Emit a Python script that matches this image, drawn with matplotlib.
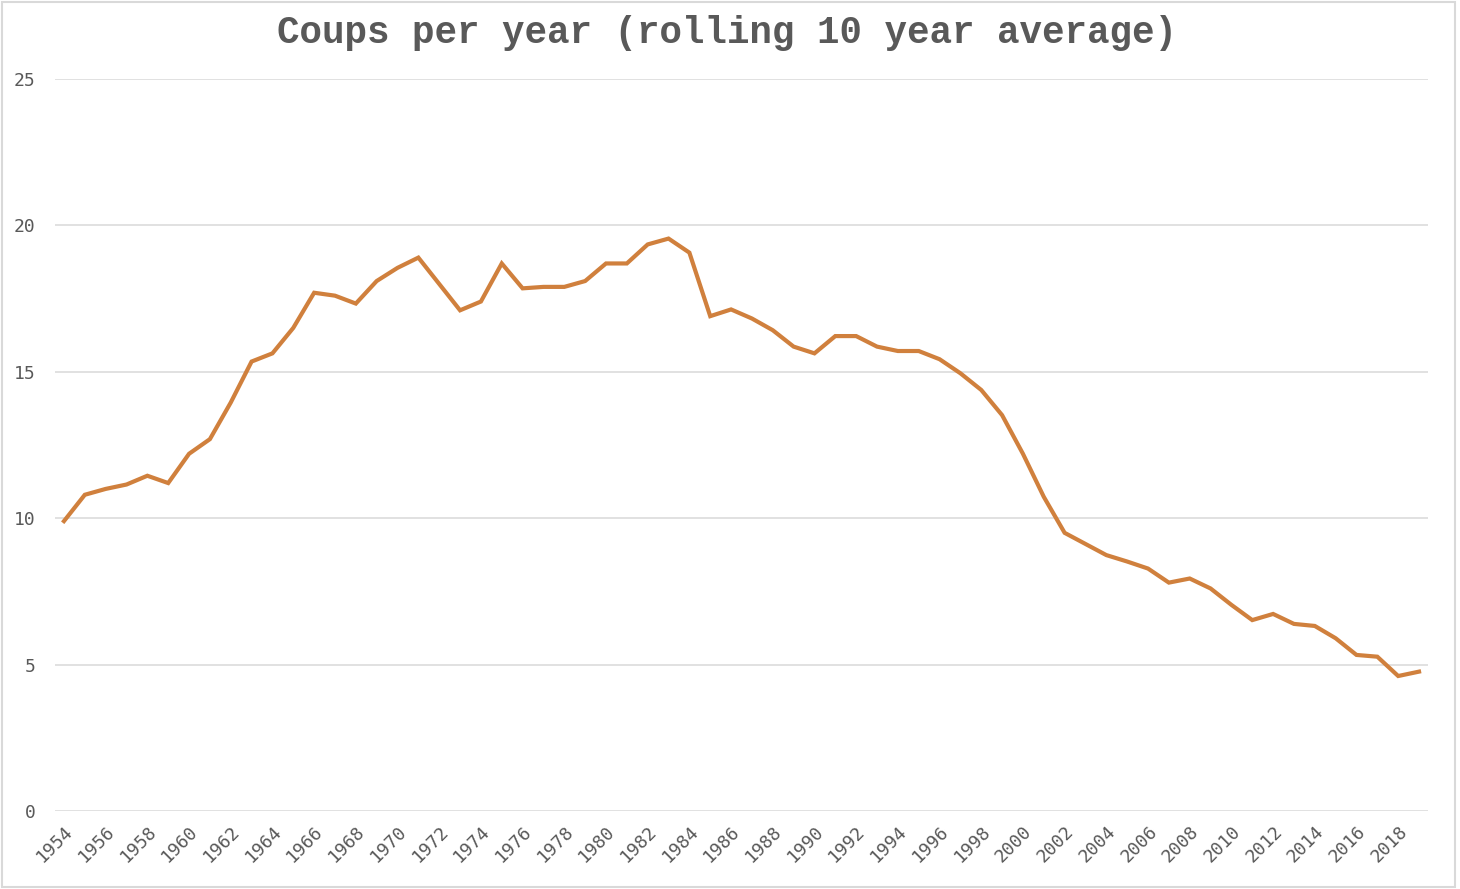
import numpy as np
import matplotlib.pyplot as plt
from matplotlib.patches import Rectangle

# rolling 10 year average of coups
years = list(range(1954, 2020))
coups = [9.9, 10.8, 11.0, 11.15, 11.45, 11.2, 12.2, 12.7, 13.95, 15.35,
         15.63, 16.5, 17.7, 17.6, 17.33, 18.1, 18.55, 18.9, 18.0, 17.1,
         17.4, 18.7, 17.85, 17.9, 17.9, 18.1, 18.7, 18.7, 19.35, 19.55,
         19.07, 16.9, 17.13, 16.82, 16.42, 15.86, 15.63, 16.22, 16.22, 15.86,
         15.71, 15.71, 15.43, 14.95, 14.38, 13.52, 12.2, 10.73, 9.5, 9.12,
         8.74, 8.52, 8.28, 7.8, 7.94, 7.6, 7.04, 6.52, 6.73, 6.39,
         6.32, 5.9, 5.33, 5.27, 4.61, 4.76]
xticks = list(range(1954, 2020, 2))
yticks = [0, 5, 10, 15, 20, 25]
title = "Coups per year (rolling 10 year average)"

txt_color = '#595959'
mono = ['DejaVu Sans Mono']

fig = plt.figure(figsize=(14.6, 8.89), dpi=100)
ax = fig.add_axes([55/1460, 1-811/889, (1428-55)/1460, (811-79)/889])

ax.plot(years, coups, color='#d0803d', lw=3, solid_joinstyle='miter')

ax.set_xlim(1953.57, 2019.43)
ax.set_ylim(0, 25)
ax.set_yticks(yticks)
ax.set_xticks(xticks)
ax.set_xticklabels([str(y) for y in xticks], rotation=45, ha='right',
                   rotation_mode='anchor', family=mono,
                   fontsize=13, color=txt_color)
ax.set_yticklabels([str(v) for v in yticks], family=mono,
                   fontsize=13, color=txt_color)
ax.tick_params(axis='both', length=0)
ax.tick_params(axis='y', pad=14)
ax.tick_params(axis='x', pad=8)
ax.grid(axis='y', color='#d9d9d9', lw=1.1)
ax.set_axisbelow(True)
for s in ax.spines.values():
    s.set_visible(False)

fig.text(0.498, 1-33/889, title, ha='center', va='center',
         family='Liberation Mono', fontweight='bold', fontsize=27,
         color=txt_color)

# light frame round the whole picture
fig.patches.append(Rectangle((2/1460, 2/889), 1453/1460, 885/889,
                             transform=fig.transFigure, fill=False,
                             edgecolor='#d9d9d9', lw=1.5))

plt.savefig('out.png', dpi=100, facecolor='w')
